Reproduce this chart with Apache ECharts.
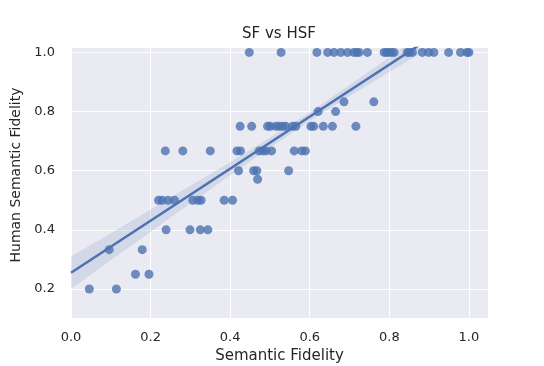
<!DOCTYPE html>
<html>
<head>
<meta charset="utf-8">
<script src="https://cdn.jsdelivr.net/npm/echarts@6/dist/echarts.min.js"></script>
<style>
  html, body { margin: 0; padding: 0; background: #fff; }
  #chart { width: 544px; height: 366px; }
</style>
</head>
<body>
<div id="chart"></div>
<script>
// scatter points: semantic fidelity (x) vs human semantic fidelity (y)
var sf = [
  0.448, 0.528, 0.618, 0.645, 0.661, 0.678, 0.695, 0.711, 0.718, 0.724, 0.745, 0.787, 0.793,
  0.799, 0.806, 0.812, 0.845, 0.851, 0.858, 0.883, 0.899, 0.912, 0.949, 0.979, 0.995, 1.0,
  0.686, 0.761,
  0.621, 0.665,
  0.425, 0.454, 0.494, 0.501, 0.515, 0.523, 0.532, 0.540, 0.557, 0.565, 0.603, 0.610, 0.634, 0.657, 0.716,
  0.237, 0.281, 0.350, 0.417, 0.426, 0.473, 0.482, 0.490, 0.504, 0.561, 0.580, 0.589,
  0.421, 0.459, 0.467, 0.547,
  0.469,
  0.220, 0.229, 0.244, 0.260, 0.306, 0.319, 0.327, 0.385, 0.406,
  0.239, 0.299, 0.325, 0.344,
  0.096, 0.179,
  0.162, 0.196,
  0.046, 0.114
];
var hsf = [
  1, 1, 1, 1, 1, 1, 1, 1, 1, 1, 1, 1, 1,
  1, 1, 1, 1, 1, 1, 1, 1, 1, 1, 1, 1, 1,
  0.833, 0.833,
  0.8, 0.8,
  0.75, 0.75, 0.75, 0.75, 0.75, 0.75, 0.75, 0.75, 0.75, 0.75, 0.75, 0.75, 0.75, 0.75, 0.75,
  0.667, 0.667, 0.667, 0.667, 0.667, 0.667, 0.667, 0.667, 0.667, 0.667, 0.667, 0.667,
  0.6, 0.6, 0.6, 0.6,
  0.571,
  0.5, 0.5, 0.5, 0.5, 0.5, 0.5, 0.5, 0.5, 0.5,
  0.4, 0.4, 0.4, 0.4,
  0.333, 0.333,
  0.25, 0.25,
  0.2, 0.2
];

// regression line
var regX = [0, 1.048];
var regY = [0.255, 1.177];

// confidence band
var bandX    = [0,     0.1,   0.2,   0.3,   0.4,   0.5,   0.6,   0.7,   0.8,   0.85,  0.9,   1.048];
var bandLow  = [0.200, 0.297, 0.393, 0.489, 0.585, 0.678, 0.768, 0.852, 0.934, 0.974, 1.014, 1.132];
var bandHigh = [0.310, 0.389, 0.469, 0.549, 0.629, 0.712, 0.798, 0.890, 0.984, 1.032, 1.080, 1.222];

var xTicks = [0, 0.2, 0.4, 0.6, 0.8, 1.0];
var yTicks = [0.2, 0.4, 0.6, 0.8, 1.0];

var font = 'DejaVu Sans';
var textColor = '#262626';
var blue = '#4c72b0';

var chart = echarts.init(document.getElementById('chart'), null, { renderer: 'canvas' });

var option = {
  animation: false,
  backgroundColor: '#ffffff',
  title: {
    text: 'SF vs HSF',
    left: 242,
    top: 27,
    padding: 0,
    textStyle: { fontFamily: font, fontSize: 15, fontWeight: 'normal', color: textColor }
  },
  grid: {
    left: 71,
    right: 56,
    top: 48,
    bottom: 48,
    show: true,
    backgroundColor: '#eaeaf2',
    borderWidth: 0,
    outerBoundsMode: 'none'
  },
  xAxis: {
    type: 'value',
    min: 0,
    max: 1.048,
    name: 'Semantic Fidelity',
    nameLocation: 'middle',
    nameGap: 28,
    nameTextStyle: { fontFamily: font, fontSize: 15, color: textColor },
    axisLine: { show: false },
    axisTick: { show: false, customValues: xTicks },
    axisLabel: {
      customValues: xTicks,
      margin: 13,
      fontFamily: font,
      fontSize: 13,
      color: textColor,
      formatter: function (v) { return v.toFixed(1); }
    },
    splitLine: { show: true, lineStyle: { color: '#ffffff', width: 1 } }
  },
  yAxis: {
    type: 'value',
    min: 0.102,
    max: 1.015,
    name: 'Human Semantic Fidelity',
    nameLocation: 'middle',
    nameGap: 39,
    nameTextStyle: { fontFamily: font, fontSize: 14, color: textColor, padding: [0, 0, 0, 16] },
    axisLine: { show: false },
    axisTick: { show: false, customValues: yTicks },
    axisLabel: {
      customValues: yTicks,
      margin: 16,
      fontFamily: font,
      fontSize: 13,
      color: textColor,
      formatter: function (v) { return v.toFixed(1); }
    },
    splitLine: { show: true, lineStyle: { color: '#ffffff', width: 1 } }
  },
  series: [
    {
      type: 'scatter',
      data: sf.map(function (x, i) { return [x, hsf[i]]; }),
      symbolSize: 9,
      itemStyle: { color: blue, opacity: 0.8 },
      clip: false
    },
    {
      type: 'custom',
      clip: true,
      data: bandX.map(function (x, i) { return [x, bandLow[i], bandHigh[i]]; }),
      encode: { x: 0, y: [1, 2] },
      renderItem: function (params, api) {
        if (params.dataIndex !== 0) return null;
        var pts = [];
        for (var i = 0; i < bandX.length; i++) pts.push(api.coord([bandX[i], bandHigh[i]]));
        for (var j = bandX.length - 1; j >= 0; j--) pts.push(api.coord([bandX[j], bandLow[j]]));
        var cs = params.coordSys;
        return {
          type: 'polygon',
          shape: { points: pts },
          style: { fill: 'rgba(76,114,176,0.15)', stroke: null },
          clipPath: { type: 'rect', shape: { x: cs.x, y: cs.y, width: cs.width, height: cs.height } },
          silent: true
        };
      }
    },
    {
      type: 'line',
      data: regX.map(function (x, i) { return [x, regY[i]]; }),
      showSymbol: false,
      symbol: 'none',
      lineStyle: { color: blue, width: 2.5 },
      clip: true
    }
  ]
};

chart.setOption(option);
</script>
</body>
</html>
